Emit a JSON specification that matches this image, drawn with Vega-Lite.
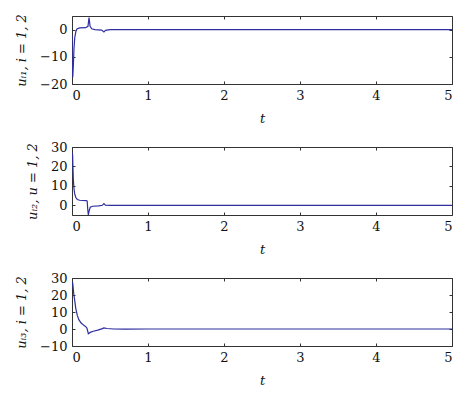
{
  "$schema": "https://vega.github.io/schema/vega-lite/v6.json",
  "padding": {"left": 15, "top": 13, "right": 0, "bottom": 0},
  "background": "white",
  "datasets": {
    "u1": [
      {"t": 0, "u": -2}, {"t": 0.004, "u": -12}, {"t": 0.01, "u": -17.5}, {"t": 0.018, "u": -13},
      {"t": 0.026, "u": -7}, {"t": 0.036, "u": -3}, {"t": 0.05, "u": -0.8}, {"t": 0.065, "u": 0.2},
      {"t": 0.1, "u": 0.6}, {"t": 0.18, "u": 0.7}, {"t": 0.21, "u": 1.2}, {"t": 0.224, "u": 4.4},
      {"t": 0.238, "u": 1.2}, {"t": 0.26, "u": 0.3}, {"t": 0.3, "u": 0}, {"t": 0.39, "u": -0.2},
      {"t": 0.42, "u": -0.9}, {"t": 0.44, "u": -0.3}, {"t": 0.5, "u": 0}, {"t": 1, "u": 0},
      {"t": 2, "u": 0}, {"t": 3, "u": 0}, {"t": 4, "u": 0}, {"t": 5, "u": 0}
    ],
    "u2": [
      {"t": 0, "u": 25}, {"t": 0.004, "u": 27}, {"t": 0.008, "u": 26}, {"t": 0.012, "u": 20},
      {"t": 0.018, "u": 13}, {"t": 0.025, "u": 9}, {"t": 0.035, "u": 6}, {"t": 0.05, "u": 4},
      {"t": 0.07, "u": 3}, {"t": 0.1, "u": 2.6}, {"t": 0.19, "u": 2.4}, {"t": 0.2, "u": 2.2},
      {"t": 0.207, "u": -2}, {"t": 0.215, "u": -5}, {"t": 0.225, "u": -3}, {"t": 0.24, "u": -1},
      {"t": 0.27, "u": -0.5}, {"t": 0.35, "u": -0.3}, {"t": 0.4, "u": 0}, {"t": 0.42, "u": 0.9},
      {"t": 0.44, "u": 0.1}, {"t": 0.5, "u": 0}, {"t": 1, "u": 0}, {"t": 2, "u": 0},
      {"t": 3, "u": 0}, {"t": 4, "u": 0}, {"t": 5, "u": 0}
    ],
    "u3": [
      {"t": 0, "u": 26}, {"t": 0.008, "u": 27.5}, {"t": 0.014, "u": 25}, {"t": 0.022, "u": 21},
      {"t": 0.035, "u": 17}, {"t": 0.05, "u": 12}, {"t": 0.07, "u": 8}, {"t": 0.09, "u": 5.5},
      {"t": 0.12, "u": 3.5}, {"t": 0.16, "u": 2}, {"t": 0.19, "u": 1}, {"t": 0.2, "u": 0},
      {"t": 0.215, "u": -2.8}, {"t": 0.24, "u": -2}, {"t": 0.28, "u": -1.3}, {"t": 0.34, "u": -0.7},
      {"t": 0.4, "u": 0.2}, {"t": 0.42, "u": 0.6}, {"t": 0.46, "u": 0.3}, {"t": 0.55, "u": 0},
      {"t": 0.7, "u": -0.1}, {"t": 1, "u": 0}, {"t": 2, "u": 0}, {"t": 3, "u": 0},
      {"t": 4, "u": 0}, {"t": 5, "u": 0}
    ]
  },
  "vconcat": [
    {
      "width": 380,
      "height": 68,
      "data": {"name": "u1"},
      "resolve": {"axis": {"x": "independent", "y": "independent"}},
      "layer": [
        {
          "mark": {"type": "line", "color": "#2e2ea0", "strokeWidth": 1.2, "clip": true},
          "encoding": {
            "x": {"field": "t", "type": "quantitative", "scale": {"domain": [0, 5], "nice": false},
                  "axis": {"orient": "bottom", "values": [0, 1, 2, 3, 4, 5], "title": "t"}},
            "y": {"field": "u", "type": "quantitative", "scale": {"domain": [-20, 5], "nice": false, "zero": false},
                  "axis": {"orient": "left", "values": [-20, -10, 0], "title": "uᵢ₁, i = 1, 2"}}
          }
        },
        {
          "mark": {"type": "line", "opacity": 0},
          "encoding": {
            "x": {"field": "t", "type": "quantitative", "axis": {"orient": "top", "values": [0, 1, 2, 3, 4, 5], "labels": false, "title": null}},
            "y": {"field": "u", "type": "quantitative", "axis": {"orient": "right", "values": [-20, -10, 0], "labels": false, "title": null}}
          }
        }
      ]
    },
    {
      "width": 380,
      "height": 68,
      "data": {"name": "u2"},
      "resolve": {"axis": {"x": "independent", "y": "independent"}},
      "layer": [
        {
          "mark": {"type": "line", "color": "#2e2ea0", "strokeWidth": 1.2, "clip": true},
          "encoding": {
            "x": {"field": "t", "type": "quantitative", "scale": {"domain": [0, 5], "nice": false},
                  "axis": {"orient": "bottom", "values": [0, 1, 2, 3, 4, 5], "title": "t"}},
            "y": {"field": "u", "type": "quantitative", "scale": {"domain": [-5, 30], "nice": false, "zero": false},
                  "axis": {"orient": "left", "values": [0, 10, 20, 30], "title": "uᵢ₂, u = 1, 2"}}
          }
        },
        {
          "mark": {"type": "line", "opacity": 0},
          "encoding": {
            "x": {"field": "t", "type": "quantitative", "axis": {"orient": "top", "values": [0, 1, 2, 3, 4, 5], "labels": false, "title": null}},
            "y": {"field": "u", "type": "quantitative", "axis": {"orient": "right", "values": [0, 10, 20, 30], "labels": false, "title": null}}
          }
        }
      ]
    },
    {
      "width": 380,
      "height": 68,
      "data": {"name": "u3"},
      "resolve": {"axis": {"x": "independent", "y": "independent"}},
      "layer": [
        {
          "mark": {"type": "line", "color": "#2e2ea0", "strokeWidth": 1.2, "clip": true},
          "encoding": {
            "x": {"field": "t", "type": "quantitative", "scale": {"domain": [0, 5], "nice": false},
                  "axis": {"orient": "bottom", "values": [0, 1, 2, 3, 4, 5], "title": "t"}},
            "y": {"field": "u", "type": "quantitative", "scale": {"domain": [-10, 30], "nice": false, "zero": false},
                  "axis": {"orient": "left", "values": [-10, 0, 10, 20, 30], "title": "uᵢ₃, i = 1, 2"}}
          }
        },
        {
          "mark": {"type": "line", "opacity": 0},
          "encoding": {
            "x": {"field": "t", "type": "quantitative", "axis": {"orient": "top", "values": [0, 1, 2, 3, 4, 5], "labels": false, "title": null}},
            "y": {"field": "u", "type": "quantitative", "axis": {"orient": "right", "values": [-10, 0, 10, 20, 30], "labels": false, "title": null}}
          }
        }
      ]
    }
  ],
  "spacing": 63,
  "bounds": "flush",
  "config": {
    "view": {"stroke": "#333333", "strokeWidth": 1},
    "font": "DejaVu Serif",
    "axis": {
      "domain": false,
      "grid": false,
      "ticks": true,
      "tickSize": -3,
      "tickColor": "#333333",
      "labelFont": "DejaVu Serif",
      "labelFontSize": 13,
      "labelColor": "#111111",
      "labelPadding": 6,
      "titleFont": "DejaVu Serif",
      "titleFontSize": 13,
      "titleFontStyle": "italic",
      "titleFontWeight": "normal",
      "titleColor": "#111111"
    },
    "axisX": {"titlePadding": 10, "labelPadding": 8},
    "axisY": {"titlePadding": 11, "labelPadding": 8}
  }
}
